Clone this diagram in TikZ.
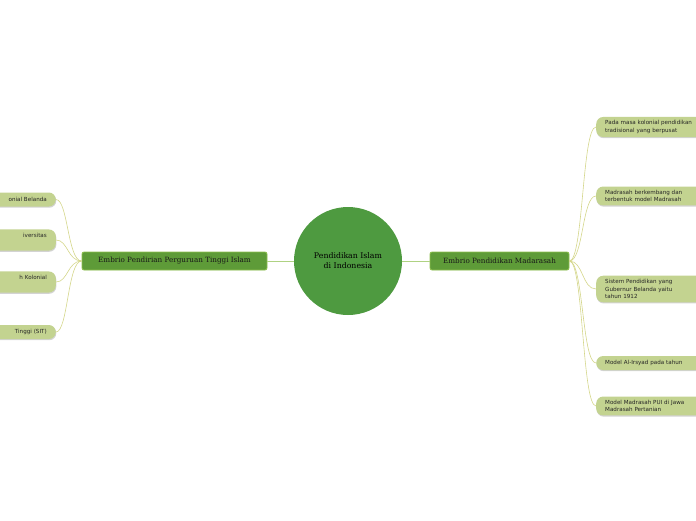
\documentclass[tikz,border=0pt]{standalone}
\usepackage{fontspec}
\usetikzlibrary{shadows}
\setmainfont{DejaVu Serif}
\newfontfamily\leaffont{DejaVu Sans}
\definecolor{leafc}{HTML}{C3D390}
\definecolor{linec}{HTML}{D4D68A}
\definecolor{mainc}{HTML}{4E9A40}
\definecolor{subc}{HTML}{5E9B38}
\definecolor{subb}{HTML}{8DBF4C}
\begin{document}
\begin{tikzpicture}[x=1pt,y=-1pt,
  leaf/.style={fill=leafc, rounded corners=7pt, inner xsep=9pt, inner ysep=3.5pt, font=\leaffont\fontsize{5.6}{7.6}\selectfont, text=black!85, drop shadow={shadow xshift=0.5pt, shadow yshift=-1.2pt, opacity=0.35}},
  sub/.style={fill=subc, draw=subb, line width=0.8pt, rounded corners=2pt, minimum height=18pt, font=\fontsize{7.2}{9}\selectfont, text=black!90, inner xsep=4pt},
  conn/.style={draw=linec, line width=0.6pt},
  sconn/.style={draw=subb!70, line width=0.8pt}]
\useasboundingbox (0,0) rectangle (696,520);
\clip (0,0) rectangle (696,520);
\node[circle, fill=mainc, minimum size=108pt, align=center, font=\fontsize{7.8}{10}\selectfont, text=black] (c) at (348,261) {Pendidikan Islam\\di Indonesia};
\node[sub, minimum width=185pt] (L) at (174.5,261) {Embrio Pendirian Perguruan Tinggi Islam};
\node[sub, minimum width=139pt] (R) at (499.5,261) {Embrio Pendidikan Madarasah};
\draw[sconn] (c) -- (L.east);
\draw[sconn] (c) -- (R.west);
% left leaves
\begin{scope}[every node/.append style={leaf, anchor=east, text width=120pt, align=right, minimum height=14pt}]
\node (l1) at (56,199.5) {onial Belanda};
\node[minimum height=20pt] (l2) at (56,240) {iversitas\\\strut};
\node[minimum height=20pt] (l3) at (56,282) {h Kolonial\\\strut};
\node (l4) at (56,332) {Tinggi (SIT)};
\end{scope}
\begin{scope}[every node/.append style={leaf, anchor=west, text width=140pt, align=left, minimum height=14pt}]
\node (r1) at (596,127) {Pada masa kolonial pendidikan\\tradisional yang berpusat};
\node (r2) at (596,196) {Madrasah berkembang dan\\terbentuk model Madrasah};
\node (r3) at (596,289) {Sistem Pendidikan yang\\Gubernur Belanda yaitu\\tahun 1912};
\node (r4) at (596,363) {Model Al-Irsyad pada tahun};
\node (r5) at (596,406) {Model Madrasah PUI di Jawa\\Madrasah Pertanian};
\end{scope}
\foreach \n in {l1,l2,l3,l4}
  \draw[conn] (L.west) .. controls +(-14,0) and +(12,0) .. (\n.east);
\foreach \n in {r1,r2,r3,r4,r5}
  \draw[conn] (R.east) .. controls +(14,0) and +(-14,0) .. (\n.west);
\end{tikzpicture}
\end{document}
